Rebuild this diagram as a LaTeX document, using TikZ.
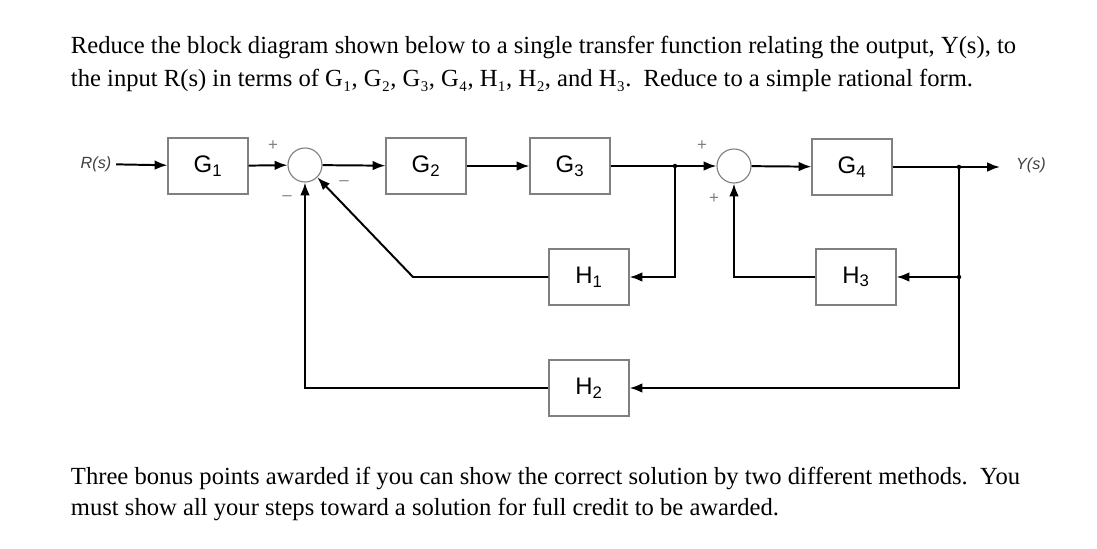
\documentclass[tikz,border=0pt]{standalone}
\usepackage{fontspec}
\setmainfont{Liberation Serif}
\newfontfamily\diagfont{Liberation Sans}
\usetikzlibrary{arrows.meta,positioning,calc}

\begin{document}
\begin{tikzpicture}[x=0.025cm, y=-0.025cm]

	\tikzset{
	block/.style={draw=gray, thick, minimum width=2cm, minimum height=1.4cm, font=\diagfont\fontsize{17}{19}\selectfont},
	sumblock/.style={draw=gray, thick, circle, minimum size=0.85cm, inner sep=0pt},
	sig/.style={-{Latex[length=3.2mm,width=2.4mm]}, line width=1.4pt},
	sign/.style={text=gray, font=\diagfont\large},
	io/.style={font=\diagfont\fontsize{11.5}{13}\selectfont\itshape, text=darkgray},
	para/.style={anchor=west, align=left, font=\fontsize{17.5}{19}\selectfont}
	}

	\useasboundingbox (0,0) rectangle (1097,548);

	% Text
	\node[para] (top1) at (66,47) {Reduce the block diagram shown below to a single transfer function relating the output, Y(s), to};
	\node[para] (top2) at (66,80) {the input R(s) in terms of G₁, G₂, G₃, G₄, H₁, H₂, and H₃.\ \ Reduce to a simple rational form.};
	\node[para] (bot1) at (66,478) {Three bonus points awarded if you can show the correct solution by two different methods.\ \ You};
	\node[para] (bot2) at (66,509) {must show all your steps toward a solution for full credit to be awarded.};

	% Nodes
	\node[io] (in) at (96,164) {R(s)};
	\node[block] (g1) at (208,166) {G\textsubscript{1}};
	\node[sumblock] (sum1) at (305,165) {};
	\node[block] (g2) at (426,166) {G\textsubscript{2}};
	\node[block] (g3) at (570,166) {G\textsubscript{3}};
	\coordinate (split1) at (675,166);
	\node[sumblock] (sum2) at (734,166) {};
	\node[block] (g4) at (852,167) {G\textsubscript{4}};
	\coordinate (split2) at (959,167);
	\node[io] (out) at (1031,165) {Y(s)};
	\coordinate (outend) at (1000,167);

	\node[block] (h1) at (589,277) {H\textsubscript{1}};
	\node[block] (h3) at (856,277) {H\textsubscript{3}};
	\node[block] (h2) at (589,388) {H\textsubscript{2}};
	\coordinate (bend1) at (413,277);

	\node[sign] (p1) at (273,146) {+};
	\node[sign] (m1) at (287,198) {–};
	\node[sign] (m2) at (344,183) {–};
	\node[sign] (p2) at (702,146) {+};
	\node[sign] (p3) at (714,199) {+};

	% Lines
	\draw[sig] (in) -- (g1);
	\draw[sig] (g1) -- (sum1);
	\draw[sig] (sum1) -- (g2);
	\draw[sig] (g2) -- (g3);
	\draw[sig] (g3) -- (sum2);
	\draw[sig] (sum2) -- (g4);
	\draw[sig] (g4.east) -- (outend);
	\draw[sig] (split1) |- (h1);
	\draw[sig] (h1) -- (bend1) -- (sum1.south east);
	\draw[sig] (split2) |- (h3);
	\draw[sig] (h3) -| (sum2);
	\draw[sig] (split2) |- (h2);
	\draw[sig] (h2) -| (sum1);
	\fill (split1) circle (1.6pt) (split2) circle (1.6pt) (split2 |- h3) circle (1.6pt);

\end{tikzpicture}
\end{document}
